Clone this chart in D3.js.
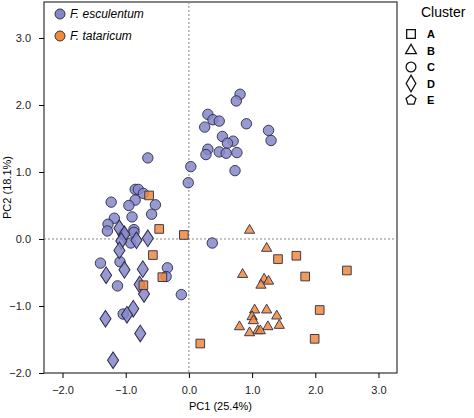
<!DOCTYPE html>
<html><head><meta charset="utf-8">
<script src="https://cdn.jsdelivr.net/npm/d3@7"></script>
<style>body{margin:0;background:#fff}</style></head>
<body><svg id="c" width="474" height="418"></svg>
<script>
const xTicks=[-2,-1,0,1,2,3], yTicks=[-2,-1,0,1,2,3];
const escCircle=[[0.81,2.16],[0.75,2.06],[0.30,1.86],[0.38,1.78],[0.48,1.76],[0.25,1.67],[0.91,1.72],[1.26,1.62],[1.30,1.47],[0.53,1.53],[0.70,1.46],[0.61,1.43],[0.30,1.34],[0.27,1.26],[0.48,1.30],[0.59,1.28],[0.76,1.29],[0.73,1.02],[-0.65,1.21],[0.03,1.08],[-0.01,0.84],[-0.85,0.74],[-0.80,0.74],[-0.72,0.68],[-1.23,0.55],[-0.53,0.51],[-0.85,0.58],[-0.95,0.50],[-0.59,0.37],[-1.18,0.31],[-0.90,0.33],[-1.28,0.22],[-1.29,0.12],[-0.87,0.14],[-0.87,0.10],[-1.04,0.07],[-0.92,-0.06],[0.37,-0.06],[-1.40,-0.36],[-1.09,-0.34],[-0.34,-0.43],[-0.36,-0.56],[-1.13,-0.70],[-0.12,-0.83],[-1.04,-1.12]];
const escDiamond=[[-1.10,0.16],[-1.02,0.07],[-0.83,-0.02],[-0.65,0.01],[-1.07,-0.03],[-1.10,-0.17],[-1.02,-0.46],[-0.73,-0.45],[-1.31,-0.54],[-0.78,-0.68],[-0.71,-0.82],[-0.88,-1.04],[-0.98,-1.13],[-1.32,-1.19],[-0.77,-1.41],[-1.20,-1.81]];
const tatSquare=[[-0.63,0.65],[-0.47,0.15],[-0.08,0.06],[-0.57,-0.24],[-0.42,-0.57],[-0.72,-0.69],[1.41,-0.30],[1.70,-0.25],[1.84,-0.56],[2.50,-0.47],[2.07,-1.06],[1.99,-1.49],[0.18,-1.56]];
const tatTriangle=[[0.96,0.13],[1.23,-0.14],[0.85,-0.53],[1.19,-0.60],[1.26,-0.63],[1.14,-0.69],[1.04,-1.06],[1.23,-1.06],[1.00,-1.16],[1.39,-1.15],[1.02,-1.22],[0.80,-1.31],[1.25,-1.31],[1.43,-1.29],[1.09,-1.37],[1.13,-1.37],[0.96,-1.40]];
const species=["F. esculentum","F. tataricum"];
const clusters=["A","B","C","D","E"];
const blue="#8687c8", orange="#f08a3c";
const svg=d3.select("#c");
const L=44,R=397,T=2,B=373;
const x=d3.scaleLinear().domain([-2.293,3.293]).range([L,R]);
const y=d3.scaleLinear().domain([-2.0,3.537]).range([B,T]);
const F="Arial, Liberation Sans, sans-serif";
svg.append("rect").attr("x",L).attr("y",T).attr("width",R-L).attr("height",B-T).attr("fill","none").attr("stroke","#333").attr("stroke-width",1.2);
svg.append("g").attr("transform",`translate(0,${B})`).call(d3.axisBottom(x).tickValues(xTicks).tickSize(5).tickPadding(8)).call(g=>{g.select(".domain").remove();g.selectAll("text").attr("font-family",F).attr("font-size",11).attr("fill","#222");});
svg.append("g").attr("transform",`translate(${L},0)`).call(d3.axisLeft(y).tickValues(yTicks).tickSize(5).tickPadding(8)).call(g=>{g.select(".domain").remove();g.selectAll("text").attr("font-family",F).attr("font-size",11).attr("fill","#222");});
svg.append("line").attr("x1",x(0)).attr("x2",x(0)).attr("y1",T).attr("y2",B).attr("stroke","#888").attr("stroke-dasharray","2,2");
svg.append("line").attr("x1",L).attr("x2",R).attr("y1",y(0)).attr("y2",y(0)).attr("stroke","#888").attr("stroke-dasharray","2,2");
const sym={circle:d3.symbolCircle,diamond:d3.symbolDiamond,square:d3.symbolSquare,triangle:d3.symbolTriangle};
const sz={circle:85,diamond:80,square:75,triangle:45};
function draw(data,shape,col){
 svg.append("g").selectAll("path").data(data).join("path")
  .attr("d",d3.symbol().type(sym[shape]).size(sz[shape]))
  .attr("transform",d=>`translate(${x(d[0])},${y(d[1])})${shape==="diamond"?" scale(1.15,1)":""}`)
  .attr("fill",col).attr("fill-opacity",0.85).attr("stroke","#2a2a4a").attr("stroke-width",0.9);
}
draw(escCircle,"circle",blue);draw(escDiamond,"diamond",blue);
draw(tatSquare,"square",orange);draw(tatTriangle,"triangle",orange);
// species legend
[[blue,14],[orange,36]].forEach((c,i)=>{
 svg.append("circle").attr("cx",60).attr("cy",c[1]).attr("r",5).attr("fill",c[0]).attr("stroke","#333");
 svg.append("text").attr("x",70).attr("y",c[1]+4).attr("font-family",F).attr("font-style","italic").attr("font-size",12).text(species[i]);
});
// cluster legend
svg.append("text").attr("x",421).attr("y",17).attr("font-family",F).attr("font-size",14).text("Cluster");
const cs=[["square",75],["triangle",50],["circle",75],["diamond",80],["pentagon",70]];
cs.forEach((c,i)=>{
 const yy=34+i*16.5;
 let p;
 if(c[0]==="pentagon"){const r=5.2;p="M"+d3.range(5).map(k=>{const a=-Math.PI/2+k*2*Math.PI/5;return [r*Math.cos(a),r*Math.sin(a)];}).join("L")+"Z";}
 else p=d3.symbol().type(sym[c[0]]).size(c[1])();
 svg.append("path").attr("d",p).attr("transform",`translate(411,${yy})`).attr("fill","none").attr("stroke","#111").attr("stroke-width",1.3);
 svg.append("text").attr("x",427).attr("y",yy+4).attr("font-family",F).attr("font-size",11).attr("font-weight","bold").text(clusters[i]);
});
svg.append("text").attr("x",(L+R)/2).attr("y",410).attr("text-anchor","middle").attr("font-family",F).attr("font-size",11).text("PC1 (25.4%)");
svg.append("text").attr("transform",`translate(11,${(T+B)/2}) rotate(-90)`).attr("text-anchor","middle").attr("font-family",F).attr("font-size",11).text("PC2 (18.1%)");
</script></body></html>
